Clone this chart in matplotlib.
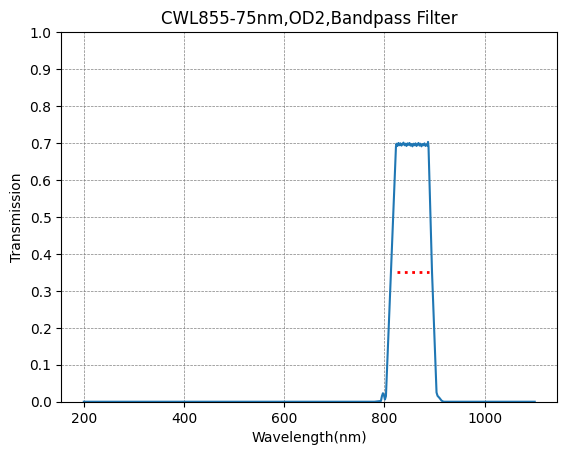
import matplotlib
matplotlib.use("Agg")
import matplotlib.pyplot as plt

# Wavelength (nm) and transmission values
wl_low = [200, 400, 600, 780, 793, 795, 797, 799, 801, 803, 813, 823]
tr_low = [0.0, 0.0, 0.0, 0.0, 0.002, 0.015, 0.023, 0.018, 0.006, 0.015, 0.35, 0.69]

wl_top = [824, 826, 828, 830, 832, 834, 836, 838, 840, 842, 844, 846, 848, 850,
          852, 854, 856, 858, 860, 862, 864, 866, 868, 870, 872, 874, 876, 878,
          880, 882, 884, 886, 887]
tr_top = [0.698, 0.692, 0.700, 0.694, 0.699, 0.693, 0.697, 0.701, 0.694, 0.698,
          0.692, 0.699, 0.695, 0.700, 0.693, 0.697, 0.691, 0.698, 0.694, 0.699,
          0.692, 0.696, 0.700, 0.693, 0.698, 0.691, 0.697, 0.694, 0.699, 0.692,
          0.696, 0.693, 0.703]

wl_high = [888, 895, 904, 906, 910, 914, 918, 930, 1000, 1100]
tr_high = [0.69, 0.35, 0.025, 0.016, 0.010, 0.003, 0.0, 0.0, 0.0, 0.0]

wavelength = wl_low + wl_top + wl_high
transmission = tr_low + tr_top + tr_high

# Half-maximum marker
fwhm_x = [825, 888]
fwhm_y = [0.35, 0.35]

fig, ax = plt.subplots(figsize=(6.4, 4.8), dpi=100)
ax.plot(wavelength, transmission, color="#1f77b4", linewidth=1.5)
ax.plot(fwhm_x, fwhm_y, "r:", linewidth=2)
ax.set_ylim(0, 1.0)
ax.set_yticks([i / 10 for i in range(11)])
ax.set_xlabel("Wavelength(nm)")
ax.set_ylabel("Transmission")
ax.set_title("CWL855-75nm,OD2,Bandpass Filter")
ax.grid(True, color="gray", linestyle="--", linewidth=0.5)
fig.savefig("out.png", dpi=100, bbox_inches="tight")
